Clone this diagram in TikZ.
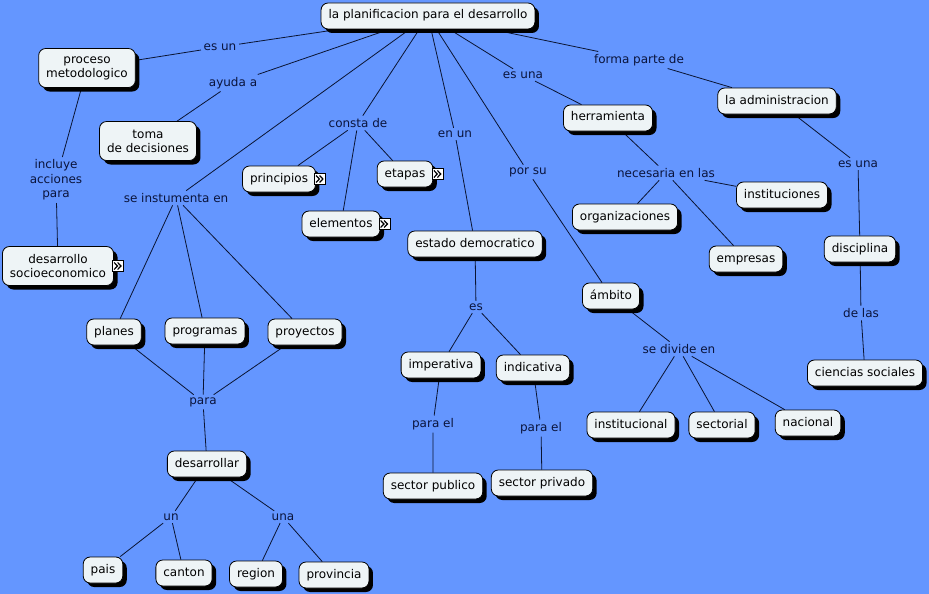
\documentclass[tikz,border=0pt]{standalone}
\usepackage{fontspec}
\setmainfont{DejaVu Sans}
\usetikzlibrary{shadows,backgrounds}
\definecolor{bg}{RGB}{100,150,255}
\definecolor{cfill}{RGB}{238,244,246}
\definecolor{ltext}{RGB}{10,20,60}
\definecolor{lline}{RGB}{10,20,50}
\tikzset{
  cbase/.style={draw=black, line width=0.8pt, fill=cfill, rounded corners=7pt,
    inner xsep=7.5pt, font=\fontsize{12}{14}\selectfont, text=black,
    drop shadow={shadow xshift=4pt, shadow yshift=-4pt, fill=black, opacity=1}},
  concept/.style={cbase, inner ysep=7pt, text height=9pt, text depth=3pt},
  concept2/.style={cbase, align=center, minimum height=39pt, inner ysep=5pt},
  lnk/.style={font=\fontsize{12}{14.5}\selectfont, text=ltext, inner sep=2.5pt, align=center},
  link/.style={draw=lline, line width=0.8pt},
  more/.style={draw=black, fill=white, minimum size=11pt, inner sep=0pt, line width=0.6pt,
    path picture={
      \draw[line width=1.2pt] ([xshift=-3.8pt,yshift=3.5pt]path picture bounding box.center)
        -- ++(3.3pt,-3.5pt) -- ++(-3.3pt,-3.5pt);
      \draw[line width=1.2pt] ([xshift=-0.3pt,yshift=3.5pt]path picture bounding box.center)
        -- ++(3.3pt,-3.5pt) -- ++(-3.3pt,-3.5pt);
    }},
}
\begin{document}
\begin{tikzpicture}[x=1pt,y=-1pt]
\begin{scope}[on background layer]
  \fill[bg] (0,0) rectangle (929,594);
\end{scope}
\useasboundingbox (0,0) rectangle (929,594);

% concepts
\node[concept] (root) at (428,16) {la planificacion para el desarrollo};
\node[concept2] (proc) at (87,68) {proceso\\metodologico};
\node[concept2] (toma) at (148,141) {toma\\de decisiones};
\node[concept] (prin) at (279,179) {principios};
\node[concept] (etap) at (405,174) {etapas};
\node[concept] (elem) at (341,224) {elementos};
\node[concept2] (dsoc) at (58,266) {desarrollo\\socioeconomico};
\node[concept] (edem) at (475,244) {estado democratico};
\node[concept] (herr) at (608,118) {herramienta};
\node[concept] (admi) at (777,101) {la administracion};
\node[concept] (inst) at (782,195) {instituciones};
\node[concept] (orga) at (625,217) {organizaciones};
\node[concept] (empr) at (746,259) {empresas};
\node[concept] (disc) at (860,249) {disciplina};
\node[concept] (ambi) at (611,296) {ámbito};
\node[concept] (plan) at (114,332) {planes};
\node[concept] (prog) at (205,331) {programas};
\node[concept] (proy) at (305,332) {proyectos};
\node[concept] (impe) at (441,365) {imperativa};
\node[concept] (indi) at (533,368) {indicativa};
\node[concept] (spub) at (433,486) {sector publico};
\node[concept] (spri) at (542,483) {sector privado};
\node[concept] (desa) at (207,464) {desarrollar};
\node[concept] (pais) at (103,570) {pais};
\node[concept] (cant) at (184,573) {canton};
\node[concept] (regi) at (256,574) {region};
\node[concept] (prov) at (334,575) {provincia};
\node[concept] (inal) at (631,425) {institucional};
\node[concept] (sect) at (722,425) {sectorial};
\node[concept] (naci) at (808,423) {nacional};
\node[concept] (cien) at (865,373) {ciencias sociales};

% icons
\node[more] (prini) at ([xshift=4pt]prin.east) {};
\node[more] (etapi) at ([xshift=4.5pt]etap.east) {};
\node[more] (elemi) at ([xshift=4pt]elem.east) {};
\node[more] (dsoci) at ([xshift=4pt]dsoc.east) {};

% linking phrases
\node[lnk] (l1) at (220,47) {es un};
\node[lnk] (l2) at (233,83) {ayuda a};
\node[lnk] (l3) at (56,180) {incluye\\acciones\\para};
\node[lnk] (l4) at (358,123) {consta de};
\node[lnk] (l5) at (176,198) {se instumenta en};
\node[lnk] (l6) at (455,134) {en un};
\node[lnk] (l7) at (523,75) {es una};
\node[lnk] (l8) at (639,60) {forma parte de};
\node[lnk] (l9) at (528,172) {por su};
\node[lnk] (l10) at (666,173) {necesaria en las};
\node[lnk] (l11) at (858,164) {es una};
\node[lnk] (l12) at (861,313) {de las};
\node[lnk] (l13) at (476,307) {es};
\node[lnk] (l14) at (433,424) {para el};
\node[lnk] (l15) at (541,428) {para el};
\node[lnk] (l16) at (679,349) {se divide en};
\node[lnk] (l17) at (203,402) {para};
\node[lnk] (l18) at (171,517) {un};
\node[lnk] (l19) at (283,517) {una};

\begin{scope}[on background layer]
  \draw[link] (root) -- (l1) -- (proc);
  \draw[link] (root) -- (l2) -- (toma);
  \draw[link] (proc) -- (l3) -- (dsoc);
  \draw[link] (root) -- (l4);
  \draw[link] (l4) -- (prin);
  \draw[link] (l4) -- (elem);
  \draw[link] (l4) -- (etap);
  \draw[link] (root) -- (l5);
  \draw[link] (l5) -- (plan);
  \draw[link] (l5) -- (prog);
  \draw[link] (l5) -- (proy);
  \draw[link] (root) -- (l6) -- (edem);
  \draw[link] (root) -- (l7) -- (herr);
  \draw[link] (root) -- (l8) -- (admi);
  \draw[link] (root) -- (l9) -- (ambi);
  \draw[link] (herr) -- (l10);
  \draw[link] (l10) -- (orga);
  \draw[link] (l10) -- (empr);
  \draw[link] (l10) -- (inst);
  \draw[link] (admi) -- (l11) -- (disc);
  \draw[link] (disc) -- (l12) -- (cien);
  \draw[link] (edem) -- (l13);
  \draw[link] (l13) -- (impe);
  \draw[link] (l13) -- (indi);
  \draw[link] (impe) -- (l14) -- (spub);
  \draw[link] (indi) -- (l15) -- (spri);
  \draw[link] (ambi) -- (l16);
  \draw[link] (l16) -- (inal);
  \draw[link] (l16) -- (sect);
  \draw[link] (l16) -- (naci);
  \draw[link] (plan) -- (l17);
  \draw[link] (prog) -- (l17);
  \draw[link] (proy) -- (l17);
  \draw[link] (l17) -- (desa);
  \draw[link] (desa) -- (l18);
  \draw[link] (l18) -- (pais);
  \draw[link] (l18) -- (cant);
  \draw[link] (desa) -- (l19);
  \draw[link] (l19) -- (regi);
  \draw[link] (l19) -- (prov);
\end{scope}
\end{tikzpicture}
\end{document}
